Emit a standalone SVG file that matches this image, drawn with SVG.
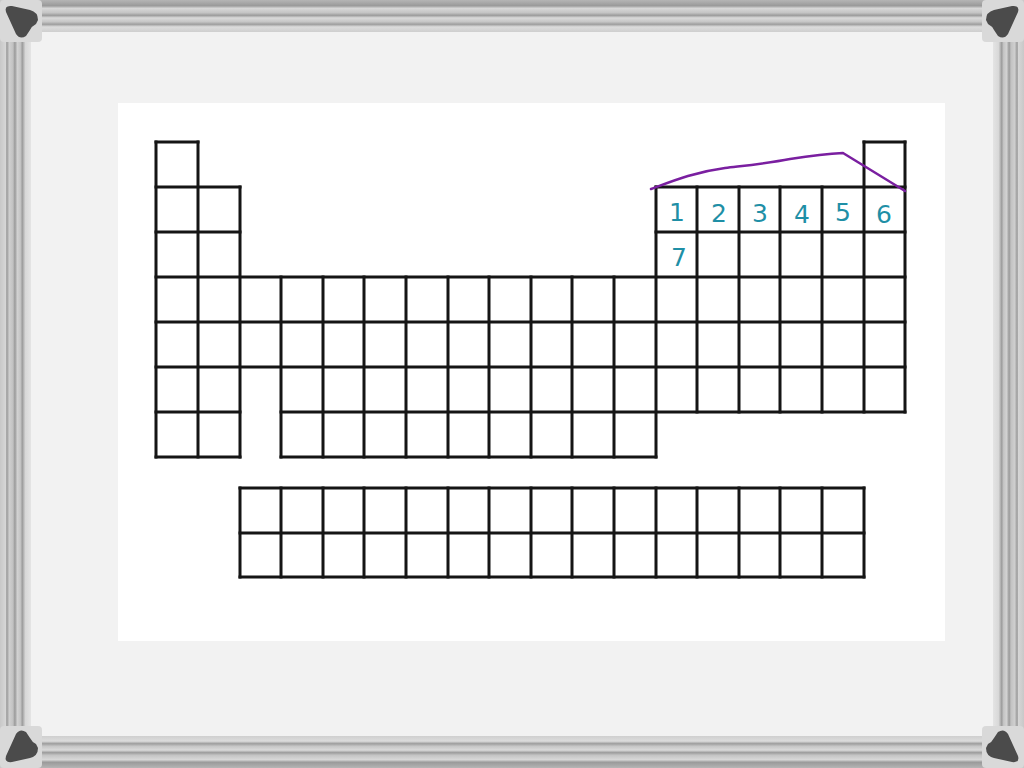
<svg xmlns="http://www.w3.org/2000/svg" width="1024" height="768" viewBox="0 0 1024 768">
<style>
.grid{fill:none;stroke:#151515;stroke-width:3;stroke-linecap:square}
.num{font-family:"DejaVu Sans","Liberation Sans",sans-serif;font-size:25px;fill:#1f8fa6;text-anchor:middle}
.corner{fill:#4b4b4b}
.cornerbg{fill:#d9d9d9}
</style>
<defs>
<linearGradient id="hbar" x1="0" y1="0" x2="0" y2="1">
<stop offset="0" stop-color="#b5b5b5"/>
<stop offset="0.18" stop-color="#9a9a9a"/>
<stop offset="0.26" stop-color="#d8d8d8"/>
<stop offset="0.4" stop-color="#c4c4c4"/>
<stop offset="0.48" stop-color="#9c9c9c"/>
<stop offset="0.56" stop-color="#dadada"/>
<stop offset="0.68" stop-color="#c6c6c6"/>
<stop offset="0.76" stop-color="#9e9e9e"/>
<stop offset="0.84" stop-color="#dcdcdc"/>
<stop offset="1" stop-color="#cfcfcf"/>
</linearGradient>
<linearGradient id="hbarB" x1="0" y1="1" x2="0" y2="0">
<stop offset="0" stop-color="#b5b5b5"/>
<stop offset="0.18" stop-color="#9a9a9a"/>
<stop offset="0.26" stop-color="#d8d8d8"/>
<stop offset="0.4" stop-color="#c4c4c4"/>
<stop offset="0.48" stop-color="#9c9c9c"/>
<stop offset="0.56" stop-color="#dadada"/>
<stop offset="0.68" stop-color="#c6c6c6"/>
<stop offset="0.76" stop-color="#9e9e9e"/>
<stop offset="0.84" stop-color="#dcdcdc"/>
<stop offset="1" stop-color="#cfcfcf"/>
</linearGradient>
<linearGradient id="vbar" x1="0" y1="0" x2="1" y2="0">
<stop offset="0" stop-color="#c8c8c8"/>
<stop offset="0.18" stop-color="#d6d6d6"/>
<stop offset="0.22" stop-color="#999999"/>
<stop offset="0.3" stop-color="#cfcfcf"/>
<stop offset="0.42" stop-color="#c2c2c2"/>
<stop offset="0.48" stop-color="#999999"/>
<stop offset="0.56" stop-color="#d2d2d2"/>
<stop offset="0.66" stop-color="#c4c4c4"/>
<stop offset="0.72" stop-color="#9c9c9c"/>
<stop offset="0.82" stop-color="#d8d8d8"/>
<stop offset="1" stop-color="#e4e4e4"/>
</linearGradient>
<linearGradient id="vbarR" x1="1" y1="0" x2="0" y2="0">
<stop offset="0" stop-color="#c8c8c8"/>
<stop offset="0.18" stop-color="#d6d6d6"/>
<stop offset="0.22" stop-color="#999999"/>
<stop offset="0.3" stop-color="#cfcfcf"/>
<stop offset="0.42" stop-color="#c2c2c2"/>
<stop offset="0.48" stop-color="#999999"/>
<stop offset="0.56" stop-color="#d2d2d2"/>
<stop offset="0.66" stop-color="#c4c4c4"/>
<stop offset="0.72" stop-color="#9c9c9c"/>
<stop offset="0.82" stop-color="#d8d8d8"/>
<stop offset="1" stop-color="#e4e4e4"/>
</linearGradient>
<path id="cornerShape" d="M6 12 Q4 5 12 6 L30 10 Q38 12 38 20 L36 24 Q32 26 30 30 L26 36 Q20 40 16 34 Z"/>
</defs>

<g id="frame">
<rect x="0" y="0" width="1024" height="768" fill="#cfcfcf"/>
<rect x="0" y="0" width="1024" height="32" fill="url(#hbar)"/>
<rect x="0" y="736" width="1024" height="32" fill="url(#hbarB)"/>
<rect x="0" y="0" width="31" height="768" fill="url(#vbar)"/>
<rect x="993" y="0" width="31" height="768" fill="url(#vbarR)"/>
<rect x="31" y="32" width="962" height="704" fill="#f2f2f2"/>
<rect x="0" y="0" width="42" height="42" rx="4" class="cornerbg"/>
<rect x="982" y="0" width="42" height="42" rx="4" class="cornerbg"/>
<rect x="0" y="726" width="42" height="42" rx="4" class="cornerbg"/>
<rect x="982" y="726" width="42" height="42" rx="4" class="cornerbg"/>
<use href="#cornerShape" class="corner"/>
<use href="#cornerShape" class="corner" transform="translate(1024,0) scale(-1,1)"/>
<use href="#cornerShape" class="corner" transform="translate(0,768) scale(1,-1)"/>
<use href="#cornerShape" class="corner" transform="translate(1024,768) scale(-1,-1)"/>
</g>

<rect id="board" x="118" y="103" width="827" height="538" fill="#ffffff"/>

<g id="main-table" class="grid">
<path d="M156 142H198 M864 142H905
M156 187H240 M656 187H905
M156 232H240 M656 232H905
M156 277H905 M156 322H905 M156 367H905
M156 412H240 M281 412H905
M156 457H240 M281 457H656"/>
<path d="M156 142V457 M198 142V457 M240 187V457 M281 277V457
M323 277V457 M364 277V457 M406 277V457 M448 277V457 M489 277V457 M531 277V457 M572 277V457 M614 277V457
M656 187V457 M697 187V412 M739 187V412 M780 187V412 M822 187V412 M864 142V412 M905 142V412"/>
</g>

<g id="f-block" class="grid">
<path d="M240 488H864 M240 533H864 M240 577H864"/>
<path d="M240 488V577 M281 488V577 M323 488V577 M364 488V577 M406 488V577 M448 488V577 M489 488V577 M531 488V577 M572 488V577 M614 488V577 M656 488V577 M697 488V577 M739 488V577 M780 488V577 M822 488V577 M864 488V577"/>
</g>

<g id="labels">
<text class="num" x="677" y="221">1</text>
<text class="num" x="719" y="222">2</text>
<text class="num" x="760" y="222">3</text>
<text class="num" x="802" y="223">4</text>
<text class="num" x="843" y="221">5</text>
<text class="num" x="884" y="223">6</text>
<text class="num" x="679" y="266">7</text>
</g>

<g id="connectors">
<path d="M651 189 C675 180 695 172 725 168 C750 165 770 163 790 159 C810 156 825 154 843 153 L905 191" fill="none" stroke="#7a1fa0" stroke-width="2.5" stroke-linecap="round" stroke-linejoin="round"/>
</g>
</svg>
